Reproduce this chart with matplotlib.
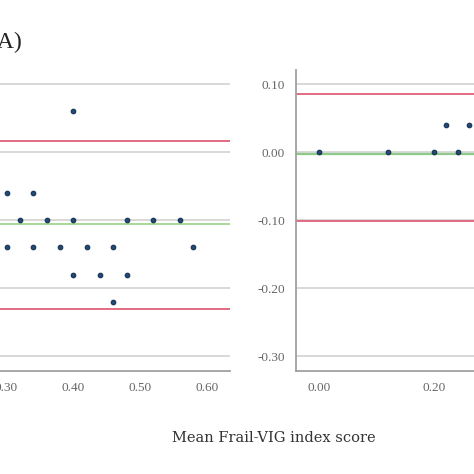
import numpy as np
import matplotlib
matplotlib.use("Agg")
import matplotlib.pyplot as plt

# panel A: mean score vs difference (only the visible part of the panel)
a_mean = [0.40, 0.30, 0.34, 0.32, 0.36, 0.40, 0.48, 0.52, 0.56,
          0.30, 0.34, 0.38, 0.42, 0.46, 0.58, 0.40, 0.44, 0.48, 0.46]
a_diff = [0.16, 0.04, 0.04, 0.00, 0.00, 0.00, 0.00, 0.00, 0.00,
          -0.04, -0.04, -0.04, -0.04, -0.04, -0.04, -0.08, -0.08, -0.08, -0.12]
a_bias = -0.006
a_loa = [0.116, -0.131]

# panel B
b_mean = [0.00, 0.12, 0.20, 0.24, 0.22, 0.26]
b_diff = [0.00, 0.00, 0.00, 0.00, 0.04, 0.04]
b_bias = -0.002
b_loa = [0.085, -0.101]

W = H = 474
fig = plt.figure(figsize=(4.74, 4.74), dpi=100)
plt.rcParams['font.family'] = ['Liberation Serif', 'DejaVu Serif']

grid_c = '#d2d2d2'
red_c = '#e0607a'
green_c = '#9fd88f'
dot_c = '#1d4a78'
tick_c = '#666666'


def px_axes(x0, x1, y_top, y_bot):
    return fig.add_axes([x0 / W, 1 - y_bot / H, (x1 - x0) / W, (y_bot - y_top) / H])


def style(ax, yticks):
    for s in ['top', 'right']:
        ax.spines[s].set_visible(False)
    for s in ['left', 'bottom']:
        ax.spines[s].set_color('#a0a0a0')
        ax.spines[s].set_linewidth(1.3)
    ax.set_yticks(yticks)
    ax.yaxis.grid(True, color=grid_c, linewidth=1.2)
    ax.set_axisbelow(True)
    ax.tick_params(length=0, labelsize=9.5, labelcolor=tick_c, pad=8)
    ax.xaxis.set_major_formatter(matplotlib.ticker.FormatStrFormatter('%.2f'))
    ax.yaxis.set_major_formatter(matplotlib.ticker.FormatStrFormatter('%.2f'))


# left panel: 0.1 in x ~ 66.7 px, 0.1 in y ~ 68 px
axA = px_axes(230 - 0.635 * 667, 230, 70, 371)
axA.set_xlim(0.0, 0.635)
axA.set_ylim(-0.222, 0.221)
style(axA, np.arange(-0.2, 0.21, 0.1))
axA.set_xticks(np.arange(0.0, 0.61, 0.1))
for v in a_loa:
    axA.axhline(v, color=red_c, lw=1.3, zorder=2)
axA.axhline(a_bias, color=green_c, lw=1.3, zorder=2)
axA.scatter(a_mean, a_diff, s=12, color=dot_c, edgecolors='#0e2240', linewidths=0.6, zorder=3)

# right panel
axB = px_axes(296, 296 + 0.40 * 577, 70, 371)
axB.set_xlim(-0.04, 0.36)
axB.set_ylim(-0.322, 0.121)
style(axB, np.arange(-0.3, 0.11, 0.1))
axB.set_xticks([0.0, 0.2])
for v in b_loa:
    axB.axhline(v, color=red_c, lw=1.3, zorder=2)
axB.axhline(b_bias, color='#8fc98a', lw=1.6, zorder=2)
axB.scatter(b_mean, b_diff, s=12, color=dot_c, edgecolors='#0e2240', linewidths=0.6, zorder=3)

fig.text(22 / W, 1 - 42 / H, '(A)', fontsize=17, ha='right', va='center', color='#222222')
fig.text(274 / W, 1 - 438 / H, 'Mean Frail-VIG index score', fontsize=10.5,
         family='DejaVu Serif', ha='center', va='center', color='#333333')

fig.savefig('out.png', dpi=100)
